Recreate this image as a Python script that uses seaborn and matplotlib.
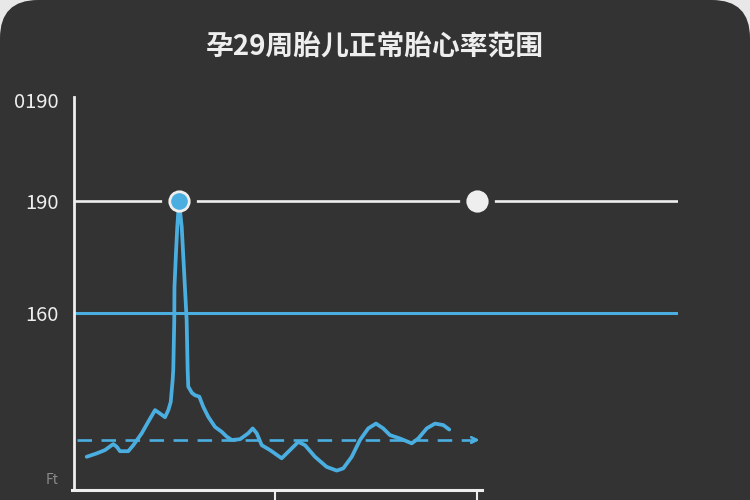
import numpy as np
import pandas as pd
import matplotlib
matplotlib.use("Agg")
import matplotlib.pyplot as plt
import seaborn as sns
from matplotlib.patches import FancyBboxPatch
from matplotlib.transforms import IdentityTransform

# ---------------- data ----------------
title = "孕29周胎儿正常胎心率范围"
ytick_values = [217.2, 190, 160, 115.8]
ytick_labels = ["0190", "190", "160", "Ft"]
upper_line = 190
lower_line = 160
baseline = 126
baseline_x = [0.3, 40.3]
xtick_values = [20, 40]

time_x = [1.26, 2.25, 3.08, 3.90, 4.24, 4.57, 5.39, 5.89, 6.73, 7.38, 8.05,
          8.54, 9.04, 9.37, 9.61, 9.80, 9.86, 9.96, 9.98, 10.13, 10.26, 10.43,
          10.70, 10.93, 11.19, 11.29, 11.35, 11.72, 12.02, 12.45, 12.84, 13.34,
          14.01, 14.67, 15.17, 15.67, 16.49, 17.31, 17.75, 18.15, 18.65, 19.47,
          20.63, 21.46, 22.28, 22.95, 23.94, 25.10, 26.10, 26.75, 27.59, 28.41,
          29.23, 30.00, 30.72, 31.39, 32.38, 33.55, 34.20, 35.04, 35.86, 36.68,
          37.28]
fhr = [121.5, 122.4, 123.3, 124.9, 124.2, 123.0, 123.0, 124.6, 127.8, 130.9, 134.0,
       133.1, 132.1, 134.0, 136.2, 142.1, 144.7, 158.1, 167.0, 176.1, 183.1, 190.0,
       183.1, 171.5, 158.1, 144.7, 140.3, 138.6, 138.0, 137.6, 134.9, 132.2,
       129.5, 128.2, 126.9, 126.0, 126.2, 127.8, 129.1, 127.8, 124.6, 123.3,
       121.1, 123.3, 125.5, 124.6, 121.5, 118.8, 117.8, 118.4, 121.5, 126.0,
       129.1, 130.4, 129.1, 127.3, 126.4, 125.1, 126.4, 129.1, 130.4, 130.0,
       128.8]

peak_point_x = [10.43]
peak_point_y = [190]
white_point_x = [40]
white_point_y = [190]

# ---------------- style ----------------
BG = "#333333"
CORNER = "#e8e8e8"
BLUE = "#4aafe0"
WHITE = "#eeeeee"

sns.set_theme(style="dark")
plt.rcParams["font.family"] = ["Noto Sans CJK SC", "DejaVu Sans"]

fig = plt.figure(figsize=(7.5, 5), dpi=100)
fig.patch.set_facecolor(CORNER)
bg = FancyBboxPatch((0, -120), 750, 620,
                    boxstyle="round,pad=0,rounding_size=38",
                    transform=IdentityTransform(), facecolor=BG,
                    edgecolor="none", zorder=-10)
fig.patches.append(bg)

ax = fig.add_axes([74 / 750, 10 / 500, 604 / 750, 393 / 500])
ax.set_facecolor("none")
ax.set_xlim(0, 60)
ax.set_ylim(112.6, 217.9)

# reference lines
ax.axhline(upper_line, color=WHITE, lw=1.9, zorder=2)
ax.axhline(lower_line, color=BLUE, lw=2.2, zorder=2)

# dashed baseline with arrow
base_df = pd.DataFrame({"x": baseline_x, "y": [baseline, baseline]})
sns.lineplot(data=base_df, x="x", y="y", ax=ax, color=BLUE, lw=1.9,
             dashes=False, zorder=3)
ax.lines[-1].set_dashes([5.5, 3.6])
ax.annotate("", xy=(baseline_x[1], baseline), xytext=(baseline_x[1] - 0.6, baseline),
            arrowprops=dict(arrowstyle="->", color=BLUE, lw=1.9,
                            mutation_scale=10, shrinkA=0, shrinkB=0), zorder=3)

# heart-rate curve
curve_df = pd.DataFrame({"t": time_x, "bpm": fhr})
sns.lineplot(data=curve_df, x="t", y="bpm", ax=ax, color=BLUE, lw=2.7,
             sort=False, estimator=None, zorder=4)
ax.lines[-1].set_solid_capstyle("round")
ax.lines[-1].set_solid_joinstyle("round")

# markers with dark halo gaps
for px, py, fc, ec in [(peak_point_x, peak_point_y, BLUE, WHITE),
                       (white_point_x, white_point_y, WHITE, WHITE)]:
    ax.plot(px, py, marker="o", ms=24, color=BG, mec=BG, ls="none", zorder=3.5)
    ax.plot(px, py, marker="o", ms=14, color=fc, mec=ec, mew=2.0, ls="none", zorder=6)

# spines
for s in ["top", "right"]:
    ax.spines[s].set_visible(False)
ax.spines["left"].set_color(WHITE)
ax.spines["left"].set_linewidth(2.0)
ax.spines["bottom"].set_color(WHITE)
ax.spines["bottom"].set_linewidth(2.2)
ax.spines["bottom"].set_bounds(-0.2, 40.5)

# ticks
ax.set_yticks(ytick_values)
ax.set_yticklabels(ytick_labels)
ax.tick_params(axis="y", length=0, pad=11, labelsize=14.5, labelcolor=WHITE)
labs = ax.get_yticklabels()
for lab in labs:
    lab.set_fontweight("medium")
labs[-1].set_color("#8a8a8a")
labs[-1].set_fontsize(10)
labs[-1].set_fontweight("normal")
ax.set_yticks([217.9], minor=True)
ax.tick_params(axis="y", which="minor", direction="inout", length=8,
               width=2, color=WHITE)

ax.set_xticks(xtick_values)
ax.set_xticklabels([])
ax.tick_params(axis="x", direction="out", length=9, width=1.5,
               color=WHITE, bottom=True)
ax.set_xlabel("")
ax.set_ylabel("")
ax.grid(False)

fig.text(0.5, 1 - 48 / 500, title, ha="center", va="center",
         fontsize=20, fontweight="bold", color=WHITE)

fig.savefig("out.png", dpi=100, facecolor=fig.get_facecolor())
